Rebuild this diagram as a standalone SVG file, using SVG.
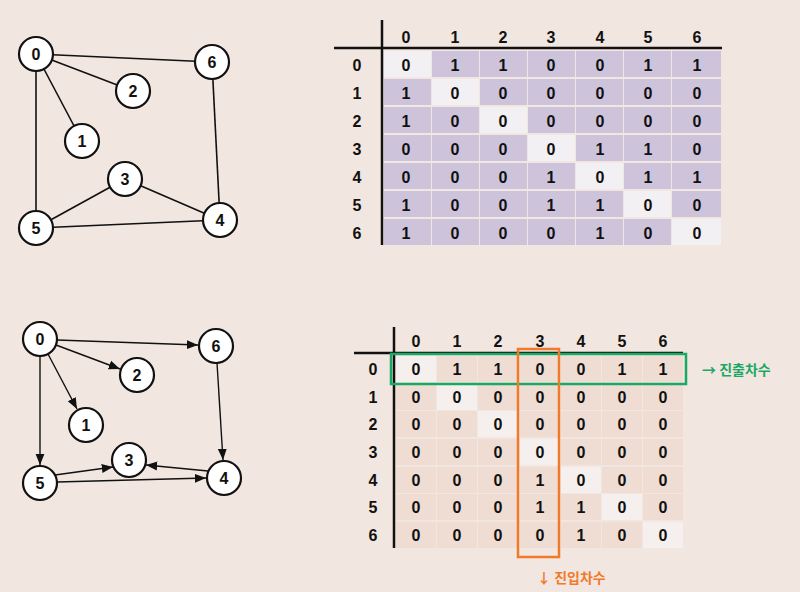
<svg xmlns="http://www.w3.org/2000/svg" width="800" height="592" viewBox="0 0 800 592">
<defs>
<style>
.n circle{fill:#fff;stroke:#111;stroke-width:2.2}
.n text,.t text{font-family:"Liberation Sans",Arial,sans-serif;font-size:16px;font-weight:bold;fill:#111;text-anchor:middle;dominant-baseline:central}
.e line{stroke:#111;stroke-width:1.6}
.d line{stroke:#111;stroke-width:1.4;marker-end:url(#ah)}
.p{fill:#cdc4dc}.pd{fill:#f2f0f2}
.b{fill:#efdcd3}.bd{fill:#f5f0ee}
.ax{stroke:#111;stroke-width:2.5}
.lab{font-family:"Noto Sans CJK KR","Noto Sans",sans-serif;font-size:14px;font-weight:bold}
</style>
<marker id="ah" viewBox="0 0 10 10" refX="10" refY="5" markerWidth="8" markerHeight="8" orient="auto"><path d="M0,1 L10,5 L0,9 z" fill="#111"/></marker>
</defs>
<rect width="800" height="592" fill="#f2e6e0"/>
<g id="edges-top" class="e">
<line x1="36" y1="54" x2="212" y2="62"/><line x1="36" y1="54" x2="133" y2="91"/><line x1="36" y1="54" x2="82" y2="141"/><line x1="36" y1="54" x2="36" y2="228"/><line x1="212" y1="62" x2="220" y2="220"/><line x1="125" y1="179" x2="36" y2="228"/><line x1="125" y1="179" x2="220" y2="220"/><line x1="36" y1="228" x2="220" y2="220"/>
</g>
<g id="nodes-top" class="n">
<g id="t0"><circle cx="36" cy="54" r="17"/><text x="36" y="54">0</text></g>
<g id="t6"><circle cx="212" cy="62" r="17"/><text x="212" y="62">6</text></g>
<g id="t2"><circle cx="133" cy="91" r="17"/><text x="133" y="91">2</text></g>
<g id="t1"><circle cx="82" cy="141" r="17"/><text x="82" y="141">1</text></g>
<g id="t3"><circle cx="125" cy="179" r="17"/><text x="125" y="179">3</text></g>
<g id="t5"><circle cx="36" cy="228" r="17"/><text x="36" y="228">5</text></g>
<g id="t4"><circle cx="220" cy="220" r="17"/><text x="220" y="220">4</text></g>
</g>
<g id="edges-bottom" class="d">
<line x1="57" y1="340" x2="198" y2="345"/><line x1="56" y1="345" x2="120" y2="369"/><line x1="48" y1="354" x2="77" y2="409"/><line x1="40" y1="356" x2="40" y2="465"/><line x1="217" y1="363" x2="223" y2="460"/><line x1="55" y1="475" x2="113" y2="467"/><line x1="208" y1="471" x2="146" y2="465"/><line x1="57" y1="482" x2="206" y2="478"/>
</g>
<g id="nodes-bottom" class="n">
<g id="b0"><circle cx="40" cy="339" r="17"/><text x="40" y="339">0</text></g>
<g id="b6"><circle cx="216" cy="346" r="17"/><text x="216" y="346">6</text></g>
<g id="b2"><circle cx="137" cy="375" r="17"/><text x="137" y="375">2</text></g>
<g id="b1"><circle cx="86" cy="425" r="17"/><text x="86" y="425">1</text></g>
<g id="b3"><circle cx="129" cy="460" r="17"/><text x="129" y="460">3</text></g>
<g id="b5"><circle cx="40" cy="483" r="17"/><text x="40" y="483">5</text></g>
<g id="b4"><circle cx="224" cy="478" r="17"/><text x="224" y="478">4</text></g>
</g>
<g id="matrix-top" class="t">
<g id="cells-top">
<rect class="pd" x="384" y="51" width="47" height="26"/><rect class="p" x="432" y="51" width="47" height="26"/><rect class="p" x="480" y="51" width="47" height="26"/><rect class="p" x="528" y="51" width="47" height="26"/><rect class="p" x="576" y="51" width="47" height="26"/><rect class="p" x="624" y="51" width="47" height="26"/><rect class="p" x="672" y="51" width="49" height="26"/>
<rect class="p" x="384" y="79" width="47" height="26"/><rect class="pd" x="432" y="79" width="47" height="26"/><rect class="p" x="480" y="79" width="47" height="26"/><rect class="p" x="528" y="79" width="47" height="26"/><rect class="p" x="576" y="79" width="47" height="26"/><rect class="p" x="624" y="79" width="47" height="26"/><rect class="p" x="672" y="79" width="49" height="26"/>
<rect class="p" x="384" y="107" width="47" height="26"/><rect class="p" x="432" y="107" width="47" height="26"/><rect class="pd" x="480" y="107" width="47" height="26"/><rect class="p" x="528" y="107" width="47" height="26"/><rect class="p" x="576" y="107" width="47" height="26"/><rect class="p" x="624" y="107" width="47" height="26"/><rect class="p" x="672" y="107" width="49" height="26"/>
<rect class="p" x="384" y="135" width="47" height="26"/><rect class="p" x="432" y="135" width="47" height="26"/><rect class="p" x="480" y="135" width="47" height="26"/><rect class="pd" x="528" y="135" width="47" height="26"/><rect class="p" x="576" y="135" width="47" height="26"/><rect class="p" x="624" y="135" width="47" height="26"/><rect class="p" x="672" y="135" width="49" height="26"/>
<rect class="p" x="384" y="163" width="47" height="26"/><rect class="p" x="432" y="163" width="47" height="26"/><rect class="p" x="480" y="163" width="47" height="26"/><rect class="p" x="528" y="163" width="47" height="26"/><rect class="pd" x="576" y="163" width="47" height="26"/><rect class="p" x="624" y="163" width="47" height="26"/><rect class="p" x="672" y="163" width="49" height="26"/>
<rect class="p" x="384" y="191" width="47" height="26"/><rect class="p" x="432" y="191" width="47" height="26"/><rect class="p" x="480" y="191" width="47" height="26"/><rect class="p" x="528" y="191" width="47" height="26"/><rect class="p" x="576" y="191" width="47" height="26"/><rect class="pd" x="624" y="191" width="47" height="26"/><rect class="p" x="672" y="191" width="49" height="26"/>
<rect class="p" x="384" y="219" width="47" height="26"/><rect class="p" x="432" y="219" width="47" height="26"/><rect class="p" x="480" y="219" width="47" height="26"/><rect class="p" x="528" y="219" width="47" height="26"/><rect class="p" x="576" y="219" width="47" height="26"/><rect class="p" x="624" y="219" width="47" height="26"/><rect class="pd" x="672" y="219" width="49" height="26"/>
</g>
<line class="ax" x1="382" y1="20" x2="382" y2="245"/><line class="ax" x1="334" y1="48" x2="722" y2="48"/>
<g id="hdr-top">
<text x="406" y="37">0</text><text x="455" y="37">1</text><text x="503" y="37">2</text><text x="551" y="37">3</text><text x="600" y="37">4</text><text x="648" y="37">5</text><text x="697" y="37">6</text>
<text x="357" y="65">0</text><text x="357" y="93">1</text><text x="357" y="121">2</text><text x="357" y="149">3</text><text x="357" y="177">4</text><text x="357" y="205">5</text><text x="357" y="233">6</text>
</g>
<g id="vals-top">
<text x="406" y="65">0</text><text x="455" y="65">1</text><text x="503" y="65">1</text><text x="551" y="65">0</text><text x="600" y="65">0</text><text x="648" y="65">1</text><text x="697" y="65">1</text>
<text x="406" y="93">1</text><text x="455" y="93">0</text><text x="503" y="93">0</text><text x="551" y="93">0</text><text x="600" y="93">0</text><text x="648" y="93">0</text><text x="697" y="93">0</text>
<text x="406" y="121">1</text><text x="455" y="121">0</text><text x="503" y="121">0</text><text x="551" y="121">0</text><text x="600" y="121">0</text><text x="648" y="121">0</text><text x="697" y="121">0</text>
<text x="406" y="149">0</text><text x="455" y="149">0</text><text x="503" y="149">0</text><text x="551" y="149">0</text><text x="600" y="149">1</text><text x="648" y="149">1</text><text x="697" y="149">0</text>
<text x="406" y="177">0</text><text x="455" y="177">0</text><text x="503" y="177">0</text><text x="551" y="177">1</text><text x="600" y="177">0</text><text x="648" y="177">1</text><text x="697" y="177">1</text>
<text x="406" y="205">1</text><text x="455" y="205">0</text><text x="503" y="205">0</text><text x="551" y="205">1</text><text x="600" y="205">1</text><text x="648" y="205">0</text><text x="697" y="205">0</text>
<text x="406" y="233">1</text><text x="455" y="233">0</text><text x="503" y="233">0</text><text x="551" y="233">0</text><text x="600" y="233">1</text><text x="648" y="233">0</text><text x="697" y="233">0</text>
</g>
</g>
<g id="matrix-bottom" class="t">
<g id="cells-bottom">
<rect class="bd" x="396" y="356" width="40" height="26"/><rect class="b" x="437" y="356" width="40" height="26"/><rect class="b" x="478" y="356" width="40" height="26"/><rect class="b" x="520" y="356" width="40" height="26"/><rect class="b" x="561" y="356" width="40" height="26"/><rect class="b" x="602" y="356" width="40" height="26"/><rect class="b" x="643" y="356" width="40" height="26"/>
<rect class="b" x="396" y="384" width="40" height="26"/><rect class="bd" x="437" y="384" width="40" height="26"/><rect class="b" x="478" y="384" width="40" height="26"/><rect class="b" x="520" y="384" width="40" height="26"/><rect class="b" x="561" y="384" width="40" height="26"/><rect class="b" x="602" y="384" width="40" height="26"/><rect class="b" x="643" y="384" width="40" height="26"/>
<rect class="b" x="396" y="411" width="40" height="26"/><rect class="b" x="437" y="411" width="40" height="26"/><rect class="bd" x="478" y="411" width="40" height="26"/><rect class="b" x="520" y="411" width="40" height="26"/><rect class="b" x="561" y="411" width="40" height="26"/><rect class="b" x="602" y="411" width="40" height="26"/><rect class="b" x="643" y="411" width="40" height="26"/>
<rect class="b" x="396" y="439" width="40" height="26"/><rect class="b" x="437" y="439" width="40" height="26"/><rect class="b" x="478" y="439" width="40" height="26"/><rect class="bd" x="520" y="439" width="40" height="26"/><rect class="b" x="561" y="439" width="40" height="26"/><rect class="b" x="602" y="439" width="40" height="26"/><rect class="b" x="643" y="439" width="40" height="26"/>
<rect class="b" x="396" y="467" width="40" height="26"/><rect class="b" x="437" y="467" width="40" height="26"/><rect class="b" x="478" y="467" width="40" height="26"/><rect class="b" x="520" y="467" width="40" height="26"/><rect class="bd" x="561" y="467" width="40" height="26"/><rect class="b" x="602" y="467" width="40" height="26"/><rect class="b" x="643" y="467" width="40" height="26"/>
<rect class="b" x="396" y="494" width="40" height="26"/><rect class="b" x="437" y="494" width="40" height="26"/><rect class="b" x="478" y="494" width="40" height="26"/><rect class="b" x="520" y="494" width="40" height="26"/><rect class="b" x="561" y="494" width="40" height="26"/><rect class="bd" x="602" y="494" width="40" height="26"/><rect class="b" x="643" y="494" width="40" height="26"/>
<rect class="b" x="396" y="522" width="40" height="26"/><rect class="b" x="437" y="522" width="40" height="26"/><rect class="b" x="478" y="522" width="40" height="26"/><rect class="b" x="520" y="522" width="40" height="26"/><rect class="b" x="561" y="522" width="40" height="26"/><rect class="b" x="602" y="522" width="40" height="26"/><rect class="bd" x="643" y="522" width="40" height="26"/>
</g>
<line class="ax" x1="394" y1="327" x2="394" y2="548"/><line class="ax" x1="354" y1="353" x2="683" y2="353"/>
<g id="hdr-bottom">
<text x="416" y="341">0</text><text x="457" y="341">1</text><text x="498" y="341">2</text><text x="540" y="341">3</text><text x="581" y="341">4</text><text x="622" y="341">5</text><text x="663" y="341">6</text>
<text x="373" y="369">0</text><text x="373" y="397">1</text><text x="373" y="424">2</text><text x="373" y="452">3</text><text x="373" y="480">4</text><text x="373" y="507">5</text><text x="373" y="535">6</text>
</g>
<g id="vals-bottom">
<text x="416" y="369">0</text><text x="457" y="369">1</text><text x="498" y="369">1</text><text x="540" y="369">0</text><text x="581" y="369">0</text><text x="622" y="369">1</text><text x="663" y="369">1</text>
<text x="416" y="397">0</text><text x="457" y="397">0</text><text x="498" y="397">0</text><text x="540" y="397">0</text><text x="581" y="397">0</text><text x="622" y="397">0</text><text x="663" y="397">0</text>
<text x="416" y="424">0</text><text x="457" y="424">0</text><text x="498" y="424">0</text><text x="540" y="424">0</text><text x="581" y="424">0</text><text x="622" y="424">0</text><text x="663" y="424">0</text>
<text x="416" y="452">0</text><text x="457" y="452">0</text><text x="498" y="452">0</text><text x="540" y="452">0</text><text x="581" y="452">0</text><text x="622" y="452">0</text><text x="663" y="452">0</text>
<text x="416" y="480">0</text><text x="457" y="480">0</text><text x="498" y="480">0</text><text x="540" y="480">1</text><text x="581" y="480">0</text><text x="622" y="480">0</text><text x="663" y="480">0</text>
<text x="416" y="507">0</text><text x="457" y="507">0</text><text x="498" y="507">0</text><text x="540" y="507">1</text><text x="581" y="507">1</text><text x="622" y="507">0</text><text x="663" y="507">0</text>
<text x="416" y="535">0</text><text x="457" y="535">0</text><text x="498" y="535">0</text><text x="540" y="535">0</text><text x="581" y="535">1</text><text x="622" y="535">0</text><text x="663" y="535">0</text>
</g>
</g>
<g id="highlights">
<rect x="391" y="354" width="295" height="30" fill="none" stroke="#1aa865" stroke-width="2.5"/>
<rect x="518" y="349" width="41" height="208" fill="none" stroke="#f07a2a" stroke-width="2.5"/>
<text class="lab" x="702" y="375" fill="#1aa865">→ 진출차수</text>
<text class="lab" x="537" y="583" fill="#f07a2a">↓ 진입차수</text>
</g>
</svg>
